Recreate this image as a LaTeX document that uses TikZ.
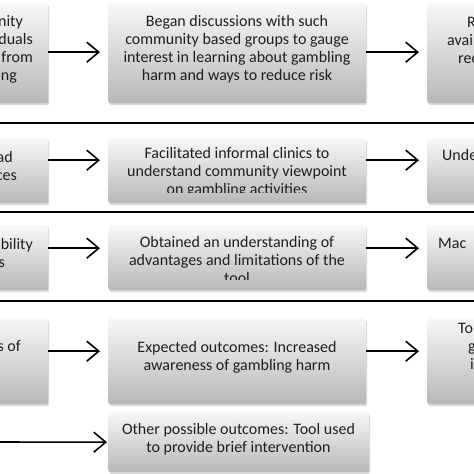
\documentclass[tikz,border=0pt]{standalone}
\usepackage{fontspec}
\setmainfont{Carlito}
\usetikzlibrary{arrows.meta,shadows}

\begin{document}
\begin{tikzpicture}[x=1pt,y=-1pt]
\tikzstyle{every node}+=[inner sep=0pt]
\tikzstyle{stage}=[rectangle, anchor=north west, rounded corners=2.5pt, top color=black!3, bottom color=black!28, drop shadow={shadow xshift=1pt,shadow yshift=-2pt,opacity=0.3}]
\tikzstyle{stagetext}=[align=center, text=black!88, font=\fontsize{16}{18}\selectfont]
\tikzstyle{frag}=[stagetext]
\tikzstyle{flow}=[line width=1.6pt, -{Straight Barb[length=12pt,width=20pt]}]
\tikzstyle{divider}=[line width=2pt]
\clip (0,0) rectangle (474,474);
% boxes, row by row
\node[stage, minimum width=258pt, minimum height=100pt] (a1) at (-210,3) {};
\node[stage, minimum width=258pt, minimum height=100pt] (b1) at (108,3) {};
\node[stage, minimum width=258pt, minimum height=100pt] (c1) at (427,3) {};
\node[stage, minimum width=258pt, minimum height=65pt] (a2) at (-210,138) {};
\node[stage, minimum width=258pt, minimum height=65pt] (b2) at (108,138) {};
\node[stage, minimum width=258pt, minimum height=65pt] (c2) at (427,138) {};
\node[stage, minimum width=258pt, minimum height=65pt] (a3) at (-210,225) {};
\node[stage, minimum width=258pt, minimum height=65pt] (b3) at (108,225) {};
\node[stage, minimum width=258pt, minimum height=65pt] (c3) at (427,225) {};
\node[stage, minimum width=258pt, minimum height=86pt] (a4) at (-210,318) {};
\node[stage, minimum width=258pt, minimum height=86pt] (b4) at (108,318) {};
\node[stage, minimum width=258pt, minimum height=86pt] (c4) at (427,318) {};
\node[stage, minimum width=261pt, minimum height=60pt] (b5) at (108,412) {};
% dividers
\draw[divider] (0,123) -- (474,123);
\draw[divider] (0,212) -- (474,212);
\draw[divider] (0,301) -- (474,301);
% texts
\node[stagetext] (b1t) at (237,49) {Began discussions with such\\community based groups to gauge\\interest in learning about gambling\\harm and ways to reduce risk};
\begin{scope}
\clip (b2.north west) rectangle ([yshift=11pt]b2.south east);
\node[stagetext] (b2t) at (237,172.5) {Facilitated informal clinics to\\understand community viewpoint\\on gambling activities};
\end{scope}
\begin{scope}
\clip (b3.north west) rectangle ([yshift=11pt]b3.south east);
\node[stagetext] (b3t) at (237,260) {Obtained an understanding of\\advantages and limitations of the\\tool};
\end{scope}
\node[stagetext] (b4t) at (237,357.5) {Expected outcomes: Increased\\awareness of gambling harm};
\node[stagetext] (b5t) at (238.5,439) {Other possible outcomes: Tool used\\to provide brief intervention};
\node[frag, align=right, anchor=east] (a1t) at (33,49) {nity\hspace*{10pt}\\duals\\from\\ng\hspace*{16pt}};
\node[frag, align=left, anchor=west] (c1t) at (447,40) {\hspace*{20pt}R\\avai\\\hspace*{11pt}rec};
\node[frag, align=right, anchor=east] (a2t) at (17,166) {ad\hspace*{4pt}\\ces};
\node[frag, anchor=west] (c2t) at (442,155.5) {Unde};
\node[frag, align=right, anchor=east] (a3t) at (33,253.5) {bility\\s\hspace*{28pt}};
\node[frag, anchor=west] (c3t) at (438,243.5) {Mac};
\node[frag, anchor=east] (a4t) at (21,346.5) {s of};
\node[frag, align=left, anchor=west] (c4t) at (458,346) {To\\\hspace*{10pt}g\\\hspace*{12pt}i};
% arrows
\draw[flow, shorten >=8pt] ([yshift=1pt]a1.east) -- ([yshift=1pt]b1.west);
\draw[flow, shorten >=8pt] ([yshift=1pt]b1.east) -- ([yshift=1pt]c1.west);
\draw[flow, shorten >=8pt] ([yshift=10.5pt]a2.east) -- ([yshift=10.5pt]b2.west);
\draw[flow, shorten >=8pt] ([yshift=10.5pt]b2.east) -- ([yshift=10.5pt]c2.west);
\draw[flow, shorten >=8pt] ([yshift=9.5pt]a3.east) -- ([yshift=9.5pt]b3.west);
\draw[flow, shorten >=8pt] ([yshift=9.5pt]b3.east) -- ([yshift=9.5pt]c3.west);
\draw[flow, shorten >=8pt] ([yshift=10pt]a4.east) -- ([yshift=10pt]b4.west);
\draw[flow, shorten >=8pt] ([yshift=10pt]b4.east) -- ([yshift=10pt]c4.west);
\coordinate (in5) at (-5,442);
\draw[flow, shorten >=1pt] (in5) -- (b5.west);
\end{tikzpicture}
\end{document}
